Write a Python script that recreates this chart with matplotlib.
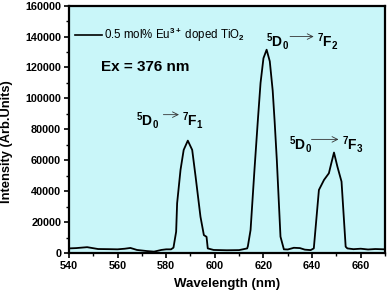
import numpy as np
import matplotlib
matplotlib.use("Agg")
import matplotlib.pyplot as plt
from matplotlib.ticker import MultipleLocator

plt.rcParams["font.family"] = ["Liberation Sans", "DejaVu Sans"]
plt.rcParams["mathtext.fontset"] = "custom"
plt.rcParams["mathtext.rm"] = "Liberation Sans:bold"
plt.rcParams["mathtext.it"] = "Liberation Sans:bold"
plt.rcParams["mathtext.bf"] = "Liberation Sans:bold"
plt.rcParams["mathtext.default"] = "rm"

# emission spectrum
wavelength = [540, 543, 547.5, 552, 557, 560, 563, 565.3, 568, 572, 575, 578, 580, 582, 583,
              584.1, 584.5, 585.9, 587.2, 588.9, 590.7, 592.1, 594.1, 595.5, 596.6, 597.1,
              599.5, 605, 610, 613.3, 613.6, 614.7, 616.3, 617.7, 618.8, 620, 621.3, 622.6,
              623.8, 624.6, 625.5, 627, 628.4, 630, 632.5, 635, 637, 639.4, 640.7, 642.8,
              644.9, 646.9, 647.9, 649, 650.4, 652.1, 653.8, 654.5, 657, 660, 663, 666, 670]
intensity = [3000, 3200, 3800, 2600, 2500, 2400, 2800, 3300, 2000, 1300, 900, 2000, 2400, 2400, 3500,
             13800, 32200, 53800, 66700, 72700, 66700, 49400, 23500, 11600, 10500, 3000,
             2000, 1800, 1900, 3000, 4500, 14900, 53800, 86000, 110000, 126000, 131500, 124000,
             105000, 85000, 60000, 10600, 2400, 2300, 3400, 3200, 2200, 1900, 3000, 40800,
             47300, 51600, 58100, 65000, 55900, 46200, 4100, 3000, 2500, 2800, 2300, 2600, 2400]

fig = plt.figure(figsize=(3.87, 2.97), dpi=100)
ax = fig.add_axes([0.178, 0.148, 0.817, 0.833])
ax.set_facecolor("#c9f6f9")
ax.plot(wavelength, intensity, color="black", lw=1.3)

ax.set_xlim(540, 670)
ax.set_ylim(0, 160000)
ax.xaxis.set_major_locator(MultipleLocator(20))
ax.xaxis.set_minor_locator(MultipleLocator(10))
ax.yaxis.set_major_locator(MultipleLocator(20000))
ax.yaxis.set_minor_locator(MultipleLocator(10000))
ax.tick_params(which="major", direction="out", length=3.5, width=1.2, labelsize=7.8, pad=2)
ax.tick_params(which="minor", direction="out", length=2, width=1)
for lab in ax.get_xticklabels() + ax.get_yticklabels():
    lab.set_fontweight("bold")
for s in ax.spines.values():
    s.set_linewidth(1.6)

ax.set_xlabel("Wavelength (nm)", fontsize=9.5, fontweight="bold")
ax.xaxis.set_label_coords(0.5, -0.1)
ax.set_ylabel("Intensity (Arb.Units)", fontsize=9.3, fontweight="bold")
ax.yaxis.set_label_coords(-0.177, 0.452)

# legend-like label
ax.plot([542.5, 553.5], [141000, 141000], color="black", lw=1.2)
ax.text(554.5, 141000, "0.5 mol% Eu$^{3+}$ doped TiO$_2$", fontsize=8.3,
        va="center", ha="left")
ax.text(553, 120000, "Ex = 376 nm", fontsize=11, fontweight="bold", va="center")


def transition(x, y, level, a0, a1):
    ax.text(x, y, "$^5$D$_0$", fontsize=10, fontweight="bold", va="center", ha="left")
    ax.annotate("", xy=(a1, y + 3500), xytext=(a0, y + 3500),
                arrowprops=dict(arrowstyle="->", lw=0.6, color="#333333"))
    ax.text(a1 + 0.3, y, "$^7$F$_%d$" % level, fontsize=10, fontweight="bold",
            va="center", ha="left")


transition(567.4, 86000, 1, 577.7, 586.4)
transition(621.2, 136500, 2, 629.8, 641.8)
transition(630.3, 70000, 3, 638.6, 652.0)

fig.savefig("out.png", dpi=100)
